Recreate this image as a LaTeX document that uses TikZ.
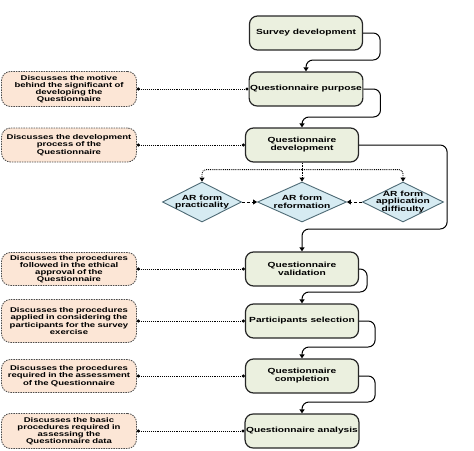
\documentclass[tikz,border=0pt]{standalone}
\usepackage{fontspec}
\newfontfamily\widefont{Liberation Sans}[FakeStretch=1.38]
\usetikzlibrary{arrows.meta,shapes.geometric}

\definecolor{stepgreen}{HTML}{EBF0DF}
\definecolor{notepeach}{HTML}{FCE6D6}
\definecolor{diamblue}{HTML}{D6EBF2}
\definecolor{diamline}{HTML}{4E6A75}

\tikzset{
  stepbox/.style={draw=black!85, line width=1.2pt, fill=stepgreen, rounded corners=8pt,
    minimum width=113pt, minimum height=34pt, align=center, inner sep=1pt,
    font=\widefont\bfseries\fontsize{7.4}{8}\selectfont},
  notebox/.style={draw=black!70, dash pattern=on 1.5pt off 1pt, line width=0.8pt, fill=notepeach, rounded corners=9pt,
    minimum width=135pt, text width=133pt, align=center, inner sep=1pt,
    font=\widefont\bfseries\fontsize{6.9}{7.2}\selectfont},
  diam/.style={diamond, draw=diamline, line width=0.9pt, fill=diamblue, inner sep=0pt, minimum height=40pt},
  diamtext/.style={align=center, font=\widefont\bfseries\fontsize{7.4}{7.8}\selectfont},
  flow/.style={line width=1pt, rounded corners=7pt, -{Triangle[width=5pt,length=4pt]}},
  notelink/.style={densely dotted, line width=0.9pt, {Circle[length=3pt]}-{Circle[length=3pt]}},
  branch/.style={densely dotted, line width=0.9pt, rounded corners=4pt},
}

\begin{document}
\begin{tikzpicture}[x=1pt, y=-1pt]
  \useasboundingbox (0,0) rectangle (474,450);

  % main steps
  \node[stepbox] (sd) at (306,33) {Survey development};
  \node[stepbox] (qp) at (306,89) {Questionnaire purpose};
  \node[stepbox] (qd) at (302,145) {Questionnaire\\development};
  \node[stepbox] (qv) at (302,269) {Questionnaire\\validation};
  \node[stepbox] (ps) at (302,321) {Participants selection};
  \node[stepbox] (qc) at (302,376) {Questionnaire\\completion};
  \node[stepbox] (qa) at (302,431) {Questionnaire analysis};

  % notes on the left
  \node[notebox, minimum height=35pt] (n1) at (69,89) {Discusses the motive\\behind the significant of\\developing the\\Questionnaire};
  \node[notebox, minimum height=34pt] (n2) at (69,145) {Discusses the development\\process of the\\Questionnaire};
  \node[notebox, minimum height=33pt] (n3) at (69,269) {Discusses the procedures\\followed in the ethical\\approval of the\\Questionnaire};
  \node[notebox, minimum height=43pt] (n4) at (69,321) {Discusses the procedures\\applied in considering the\\participants for the survey\\exercise};
  \node[notebox, minimum height=33pt] (n5) at (69,376) {Discusses the procedures\\required in the assessment\\of the Questionnaire};
  \node[notebox, minimum height=35pt] (n6) at (69,431) {Discusses the basic\\procedures required in\\assessing the\\Questionnaire data};

  % AR form diamonds
  \node[diam, minimum width=79pt, label={[diamtext]center:AR form\\practicality}] (prac) at (202,202) {};
  \node[diam, minimum width=89pt, label={[diamtext]center:AR form\\reformation}] (reform) at (302,202) {};
  \node[diam, minimum width=81pt, label={[diamtext]center:AR form\\application\\difficulty}] (appl) at (403,202) {};

  % flow between the steps
  \foreach \a/\b/\dx/\dy in {sd/qp/17/27, qp/qd/17/28, qd/qv/88/84, qv/ps/8/23, ps/qc/16/26, qc/qa/16/26}
    \draw[flow] (\a.east) -- ++(\dx,0) -- ++(0,\dy) -| (\b.north);

  % notes linked to the steps
  \foreach \n/\m in {n1/qp, n2/qd, n3/qv, n4/ps, n5/qc, n6/qa}
    \draw[notelink] (\n.east) -- (\m.west);

  % branch to the diamonds
  \draw[branch] (qd.south) -- ++(0,7) coordinate (fork);
  \draw[branch, -{Triangle[width=5pt,length=4pt]}] (fork) -| (prac.north);
  \draw[branch, -{Triangle[width=5pt,length=4pt]}] (fork) -| (appl.north);
  \draw[branch, -{Triangle[width=5pt,length=4pt]}] (fork) -- (reform.north);
  \draw[densely dashed, line width=0.8pt, -{Triangle[width=5pt,length=4pt]}] (prac.east) -- (reform.west);
  \draw[densely dashed, line width=0.8pt, -{Triangle[width=5pt,length=4pt]}] (appl.west) -- (reform.east);
\end{tikzpicture}
\end{document}
